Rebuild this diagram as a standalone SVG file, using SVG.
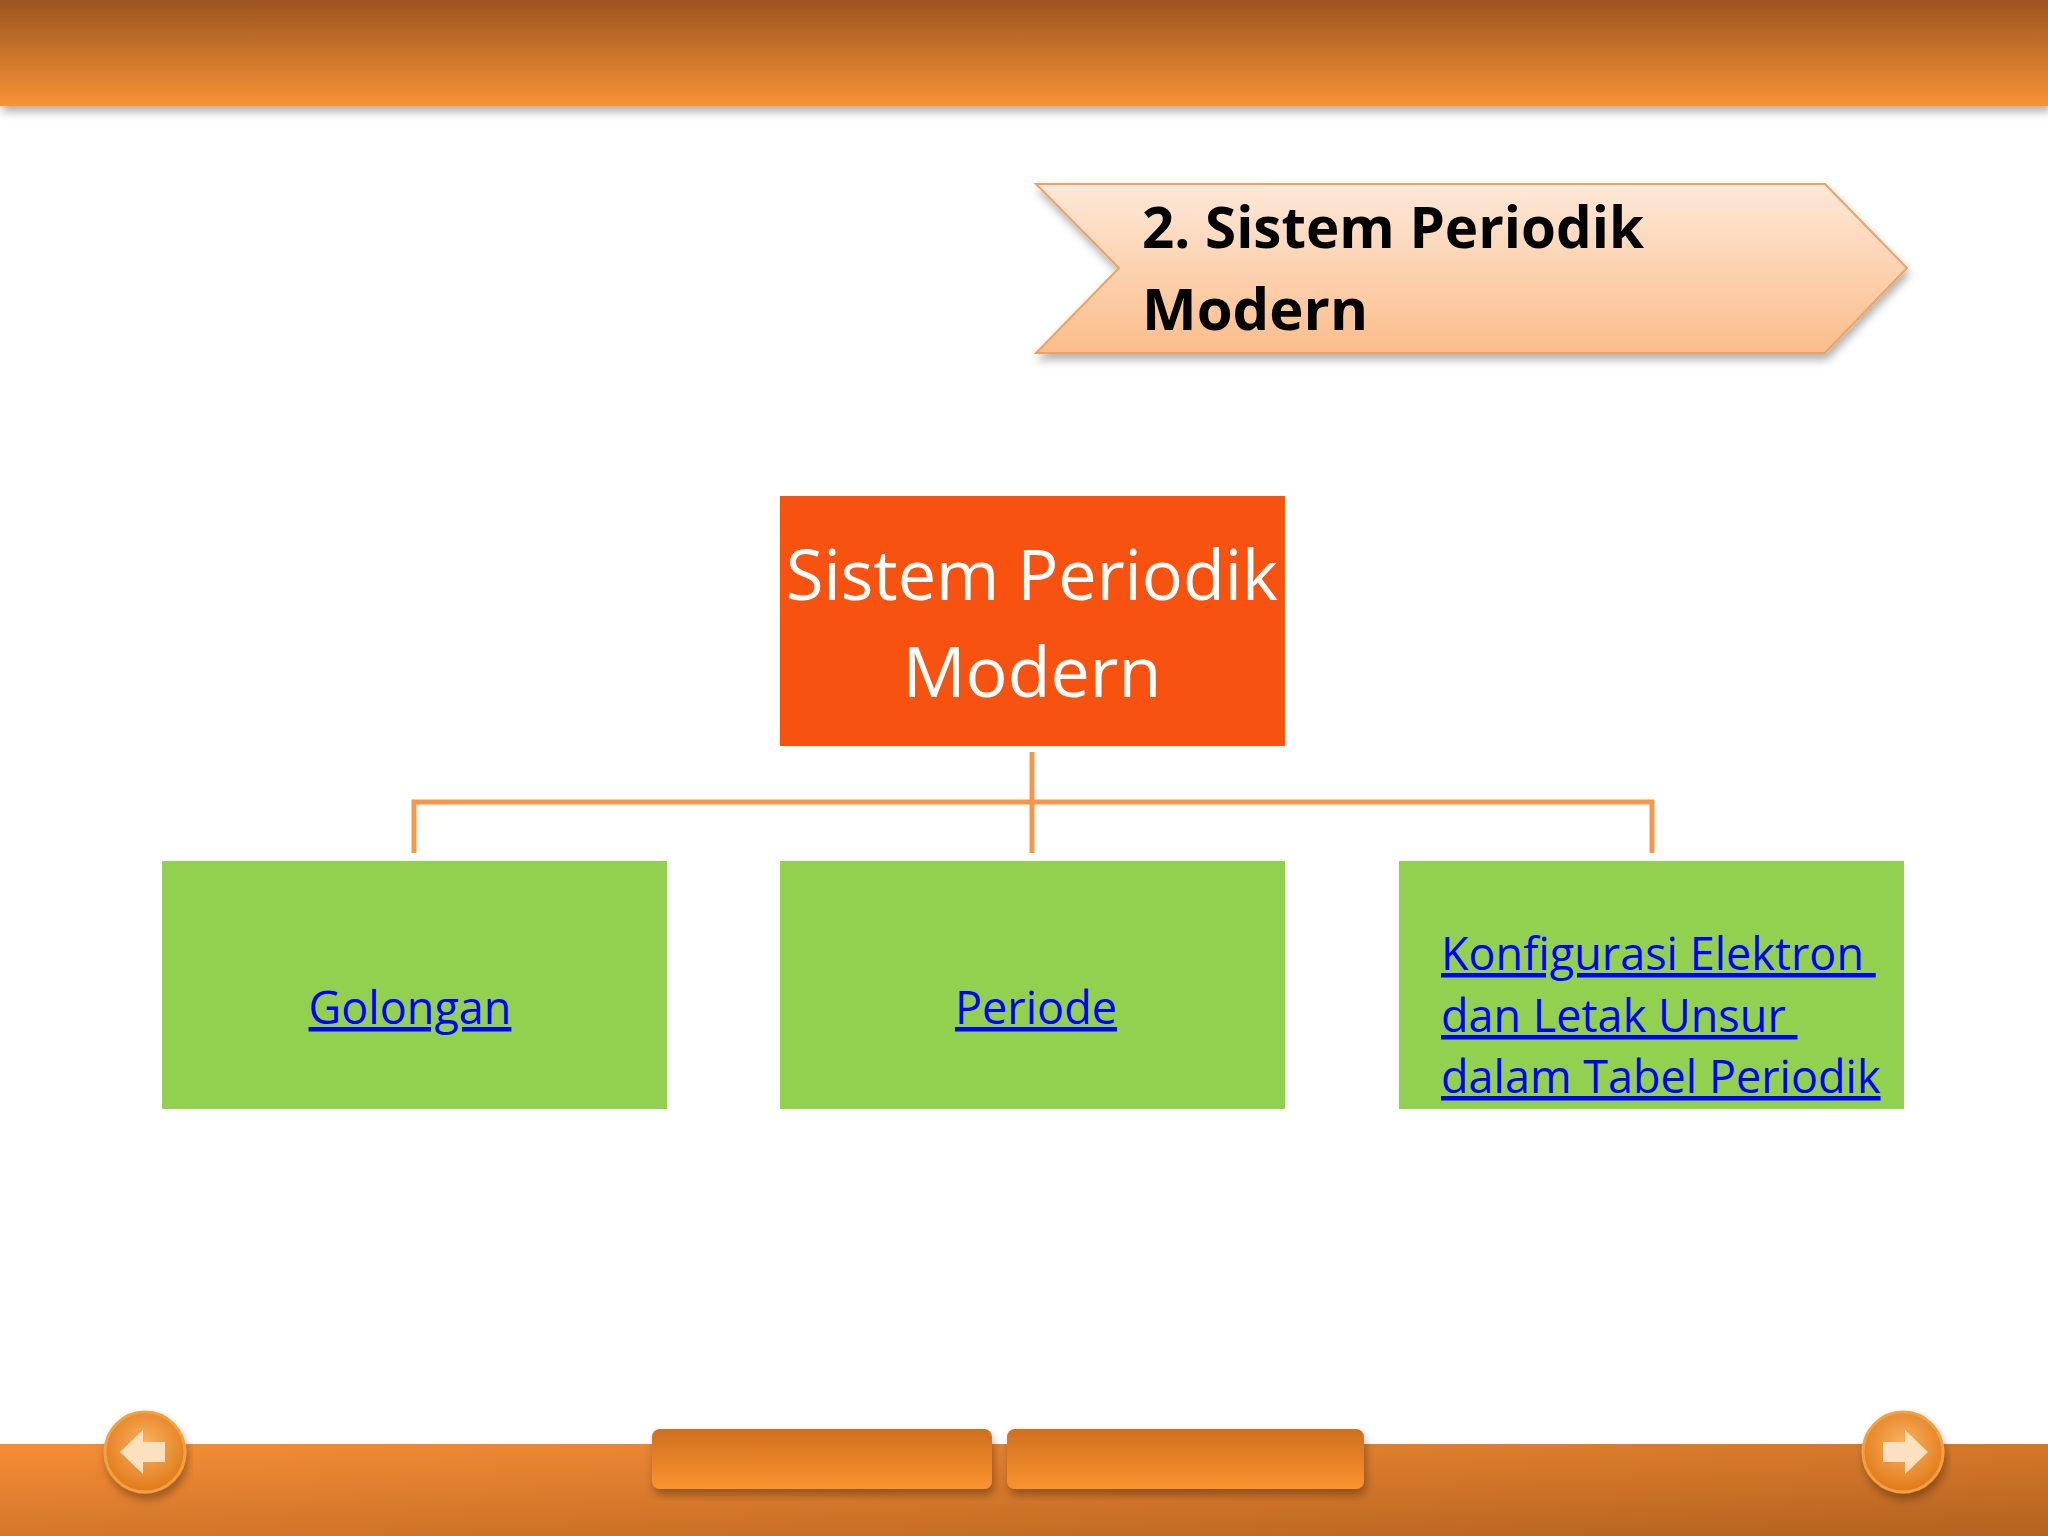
<svg xmlns="http://www.w3.org/2000/svg" width="2048" height="1536" viewBox="0 0 2048 1536">
<defs>
<linearGradient id="top" x1="0" y1="0" x2="0" y2="1"><stop offset="0" stop-color="#9c5520"/><stop offset="1" stop-color="#f79236"/></linearGradient>
<linearGradient id="bot" x1="0" y1="0" x2="1" y2="1"><stop offset="0" stop-color="#f58d36"/><stop offset="1" stop-color="#b3621f"/></linearGradient>
<linearGradient id="btn" x1="0" y1="0" x2="0" y2="1"><stop offset="0" stop-color="#d06e1e"/><stop offset="1" stop-color="#fa9430"/></linearGradient>
<linearGradient id="ban" x1="0" y1="0" x2="0" y2="1"><stop offset="0" stop-color="#fde8d8"/><stop offset="1" stop-color="#fbbd8a"/></linearGradient>
<radialGradient id="circ" cx="0.5" cy="0.4" r="0.6"><stop offset="0" stop-color="#fbb060"/><stop offset="1" stop-color="#e07a18"/></radialGradient>
<filter id="sh" x="-10%" y="-10%" width="120%" height="130%"><feDropShadow dx="2" dy="6" stdDeviation="4" flood-color="#000" flood-opacity="0.3"/></filter>
</defs>
<style>
.g{fill:#92d050}
.lk{font-family:"Open Sans","Liberation Sans",sans-serif;font-size:45px;fill:#0000ff;text-decoration:underline}
.con{stroke:#f79646;stroke-width:5;fill:none}
</style>
<rect width="2048" height="1536" fill="#fff"/>
<rect x="0" y="0" width="2048" height="106" fill="url(#top)" filter="url(#sh)"/>
<rect x="0" y="1444" width="2048" height="92" fill="url(#bot)"/>
<g id="buttons" filter="url(#sh)">
<rect x="652" y="1429" width="340" height="60" rx="8" fill="url(#btn)"/>
<rect x="1007" y="1429" width="357" height="60" rx="8" fill="url(#btn)"/>
</g>
<g id="prev" filter="url(#sh)">
<circle cx="145" cy="1452" r="40" fill="url(#circ)" stroke="#f2a040" stroke-width="3"/>
<polygon points="120,1452 143,1430 143,1442 165,1442 165,1462 143,1462 143,1474" fill="#fde0c0"/>
</g>
<g id="next" filter="url(#sh)">
<circle cx="1903" cy="1452" r="40" fill="url(#circ)" stroke="#f2a040" stroke-width="3"/>
<polygon points="1928,1452 1905,1430 1905,1442 1883,1442 1883,1462 1905,1462 1905,1474" fill="#fde0c0"/>
</g>
<g id="banner">
<polygon points="1036,184 1825,184 1907,268 1825,353 1036,353 1119,268" fill="url(#ban)" stroke="#f0a060" stroke-width="2" filter="url(#sh)"/>
<text font-family="Open Sans,Liberation Sans,sans-serif" font-weight="bold" font-size="58" fill="#000"><tspan x="1142" y="248" textLength="502" lengthAdjust="spacingAndGlyphs">2. Sistem Periodik</tspan><tspan x="1142" y="330" textLength="226" lengthAdjust="spacingAndGlyphs">Modern</tspan></text>
</g>
<g id="connectors">
<path class="con" d="M1032,752 V853 M414,853 V802 H1652 V853"/>
</g>
<g id="root">
<rect x="780" y="496" width="505" height="250" fill="#f75210"/>
<text font-family="Open Sans,Liberation Sans,sans-serif" font-size="70" fill="#fff" text-anchor="middle"><tspan x="1032" y="600" textLength="492" lengthAdjust="spacingAndGlyphs">Sistem Periodik</tspan><tspan x="1032" y="697">Modern</tspan></text>
</g>
<g id="golongan">
<rect class="g" x="162" y="861" width="505" height="248"/>
<text class="lk" x="410" y="1024" text-anchor="middle">Golongan</text>
</g>
<g id="periode">
<rect class="g" x="780" y="861" width="505" height="248"/>
<text class="lk" x="1036" y="1024" text-anchor="middle">Periode</text>
</g>
<g id="konfigurasi">
<rect class="g" x="1399" y="861" width="505" height="248"/>
<text class="lk" xml:space="preserve"><tspan x="1441" y="970">Konfigurasi Elektron </tspan><tspan x="1441" y="1032">dan Letak Unsur </tspan><tspan x="1441" y="1093">dalam Tabel Periodik</tspan></text>
</g>
</svg>
